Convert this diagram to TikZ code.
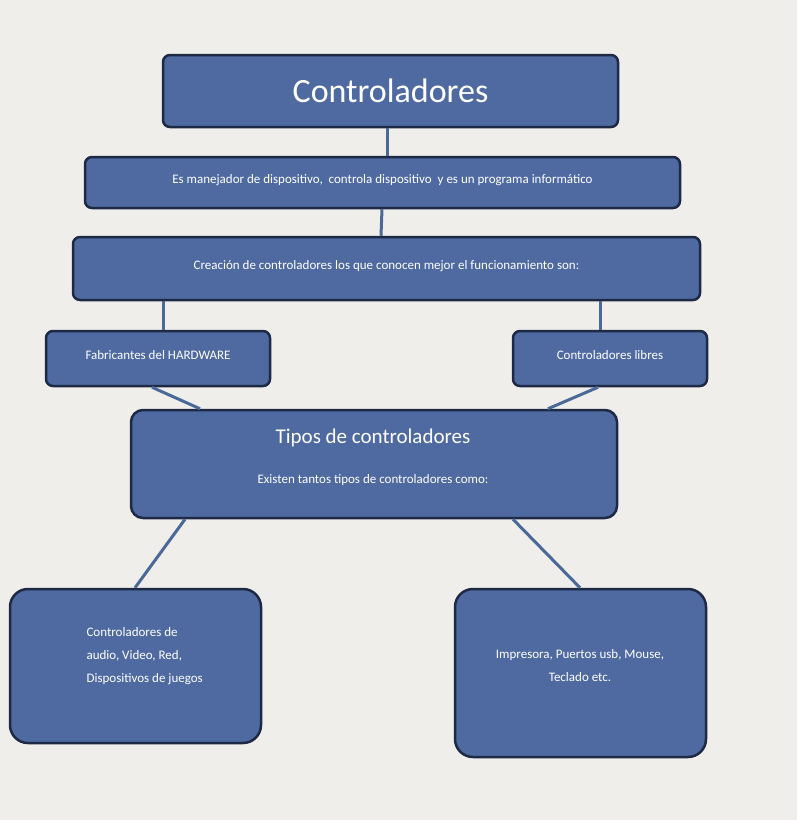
\documentclass[tikz,border=0pt]{standalone}
\usepackage{fontspec}
\setmainfont{Carlito}
\definecolor{bg}{HTML}{F0EEEB}
\definecolor{boxfill}{HTML}{4F6AA0}
\definecolor{boxline}{HTML}{1E2A45}
\definecolor{conn}{HTML}{4A6898}
\begin{document}
\begin{tikzpicture}[x=1pt,y=-1pt,
  box/.style={draw=boxline,line width=2.5pt,fill=boxfill,rounded corners=7pt,text=white,inner sep=0pt},
  link/.style={draw=conn,line width=3pt}]
\fill[bg] (0,0) rectangle (797,820);
\useasboundingbox (0,0) rectangle (797,820);
\node[box,minimum width=455,minimum height=72,font=\fontsize{34}{40}\selectfont] (a) at (390.5,91) {Controladores};
\node[box,minimum width=595,minimum height=51,font=\fontsize{13}{16}\selectfont] (b) at (382.5,182.5) {\raisebox{8pt}{Es manejador de dispositivo,\ \ controla dispositivo\ \ y es un programa informático}};
\node[box,minimum width=627,minimum height=63,font=\fontsize{13}{16}\selectfont] (c) at (386.5,268.5) {\raisebox{8pt}{Creación de controladores los que conocen mejor el funcionamiento son:}};
\node[box,minimum width=224,minimum height=55,font=\fontsize{13}{16}\selectfont] (d) at (158,358.5) {\raisebox{8pt}{Fabricantes del HARDWARE}};
\node[box,minimum width=194,minimum height=55,font=\fontsize{13}{16}\selectfont] (e) at (610,358.5) {\raisebox{8pt}{Controladores libres}};
\node[box,minimum width=486,minimum height=108,rounded corners=12pt] (f) at (374,464) {};
\node[text=white,font=\fontsize{21}{25}\selectfont] (ft) at (373,438) {Tipos de controladores};
\node[text=white,font=\fontsize{13}{16}\selectfont] (fs) at (373,480) {Existen tantos tipos de controladores como:};
\node[box,minimum width=251,minimum height=154,rounded corners=18pt] (g) at (135.5,666) {};
\node[text=white,font=\fontsize{13}{23}\selectfont,align=left,anchor=north west] (gt) at (83,624) {Controladores de\\audio, Video, Red,\\Dispositivos de juegos};
\node[box,minimum width=251,minimum height=168,rounded corners=18pt] (h) at (580.5,673) {};
\node[text=white,font=\fontsize{13}{23}\selectfont,align=center] (ht) at (580,666) {Impresora, Puertos usb, Mouse,\\Teclado etc.};
\draw[link] ([xshift=-3.5pt]a.south) -- ([xshift=4.5pt]b.north);
\draw[link] ([xshift=-0.5pt]b.south) -- ([xshift=-5.5pt]c.north);
\draw[link] (c.south west -| 163,0) -- (d.north west -| 163,0);
\draw[link] (c.south west -| 600,0) -- (e.north west -| 600,0);
\draw[link] (d.south west -| 152,0) -- (f.north west -| 200,0);
\draw[link] (e.south west -| 598,0) -- (f.north west -| 548,0);
\draw[link] (f.south west -| 185,0) -- (g.north west -| 135,0);
\draw[link] (f.south west -| 513,0) -- (h.north west -| 580,0);
\end{tikzpicture}
\end{document}
